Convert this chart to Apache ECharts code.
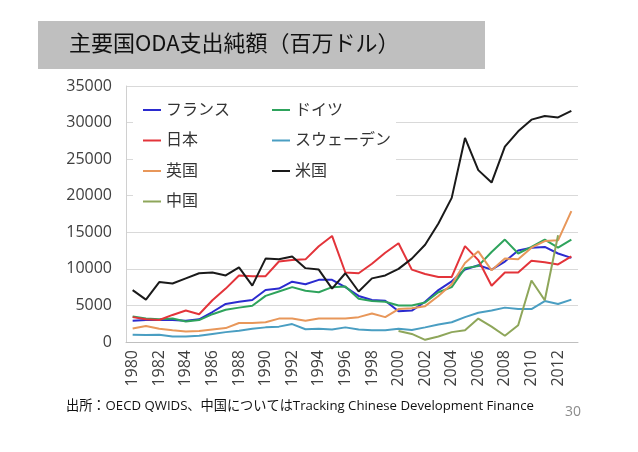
<!DOCTYPE html>
<html>
<head>
<meta charset="utf-8">
<script src="https://cdn.jsdelivr.net/npm/echarts@6/dist/echarts.min.js"></script>
<style>
  html, body { margin: 0; padding: 0; background: #fff; }
  #chart { width: 638px; height: 452px; }
</style>
</head>
<body>
<div id="chart"></div>
<script>
// 年（横軸）
const years = ['1980','1981','1982','1983','1984','1985','1986','1987','1988','1989',
  '1990','1991','1992','1993','1994','1995','1996','1997','1998','1999',
  '2000','2001','2002','2003','2004','2005','2006','2007','2008','2009',
  '2010','2011','2012','2013']

// ODA支出純額（百万ドル）
const france = [2900,3000,3000,3000,2900,3100,4100,5200,5500,5750,
  7100,7300,8250,7900,8500,8500,7500,6300,5750,5650,
  4200,4300,5500,7100,8300,9900,10500,9900,11000,12500,
  12900,13000,12100,11500]
const germany = [3500,3200,3100,3200,2800,3000,3800,4400,4700,4950,
  6300,6900,7500,7000,6800,7500,7600,5900,5600,5500,
  5000,5000,5400,6800,7500,10100,10400,12300,14000,12100,
  13000,14000,12900,14000]
const japan = [3400,3100,3000,3700,4300,3800,5700,7300,9100,9000,
  9000,11000,11200,11300,13100,14500,9500,9400,10700,12200,
  13500,9900,9300,8900,8900,13100,11200,7700,9500,9500,
  11100,10900,10600,11700]
const sweden = [1000,950,1000,750,750,850,1100,1350,1550,1800,
  2000,2100,2450,1750,1800,1700,2000,1700,1600,1600,
  1800,1650,2000,2400,2700,3400,4000,4300,4700,4500,
  4500,5600,5200,5800]
const uk = [1850,2200,1800,1600,1450,1500,1700,1900,2600,2600,
  2700,3200,3200,2900,3200,3200,3200,3400,3900,3400,
  4500,4600,4900,6300,7900,10800,12400,9800,11400,11300,
  12900,13800,13900,17900]
const us = [7100,5800,8200,8000,8700,9400,9500,9100,10200,7700,
  11400,11300,11700,10100,9900,7300,9400,6900,8700,9100,
  10000,11400,13300,16200,19700,27900,23500,21800,26700,28800,
  30400,30900,30700,31600]
const china = [null,null,null,null,null,null,null,null,null,null,
  null,null,null,null,null,null,null,null,null,null,
  1500,1100,300,750,1350,1600,3200,2100,850,2300,
  8400,5700,14600,null]

const names = ['フランス','ドイツ','日本','スウェーデン','英国','米国','中国']
const colors = ['#2b2bcf','#2ea35c','#e3343a','#4a9ec2','#e8975a','#1a1a1a','#8ea65a']
const values = [france, germany, japan, sweden, uk, us, china]

const font = '"Open Sans", "Noto Sans CJK JP", sans-serif'

const chart = echarts.init(document.getElementById('chart'))

const legendBase = {
  orient: 'vertical',
  icon: 'rect',
  itemWidth: 18,
  itemHeight: 2,
  itemGap: 14.5,
  padding: 0,
  z: 10,
  textStyle: { fontFamily: font, fontSize: 16, lineHeight: 16, color: '#333' }
}

const option = {
  animation: false,
  textStyle: { fontFamily: font },
  color: colors,
  grid: { left: 126, right: 60, top: 86, bottom: 110 },
  xAxis: {
    type: 'category',
    data: years,
    boundaryGap: true,
    axisLine: { lineStyle: { color: '#bfbfbf' } },
    axisTick: { interval: 0, length: 5, lineStyle: { color: '#bfbfbf' } },
    axisLabel: { interval: 1, rotate: 90, fontSize: 16, color: '#404040', margin: 8 }
  },
  yAxis: {
    type: 'value',
    min: 0,
    max: 35000,
    interval: 5000,
    axisLine: { show: true, lineStyle: { color: '#d0d0d0' } },
    axisTick: { show: false },
    splitLine: { lineStyle: { color: '#d9d9d9' } },
    axisLabel: { fontSize: 16, color: '#404040', margin: 14, formatter: v => String(v) }
  },
  legend: [
    Object.assign({}, legendBase, { left: 143, top: 102, data: ['フランス','日本','英国','中国'] }),
    Object.assign({}, legendBase, { left: 272, top: 102, data: ['ドイツ','スウェーデン','米国'] })
  ],
  graphic: [
    { type: 'rect', left: 38, top: 21, z: 1, shape: { width: 447, height: 48 }, style: { fill: '#bfbfbf' } },
    { type: 'text', left: 69, top: 32, z: 2, style: { text: '主要国ODA支出純額（百万ドル）', font: '22px "Noto Sans CJK JP", sans-serif', fill: '#111' } },
    { type: 'rect', left: 133, top: 94, z: 5, shape: { width: 263, height: 124 }, style: { fill: '#fff' } },
    { type: 'text', left: 66, top: 400, style: { text: '出所：OECD QWIDS、中国についてはTracking Chinese Development Finance', font: '13.2px "Open Sans", "Noto Sans CJK JP", sans-serif', fill: '#111' } },
    { type: 'text', left: 565, top: 405, style: { text: '30', font: '14px "Open Sans", sans-serif', fill: '#8c8c8c' } }
  ],
  series: names.map((n, i) => ({
    name: n,
    type: 'line',
    data: values[i],
    symbol: 'none',
    showSymbol: false,
    connectNulls: false,
    lineStyle: { width: 2, color: colors[i] },
    itemStyle: { color: colors[i] }
  }))
}

chart.setOption(option)
</script>
</body>
</html>
